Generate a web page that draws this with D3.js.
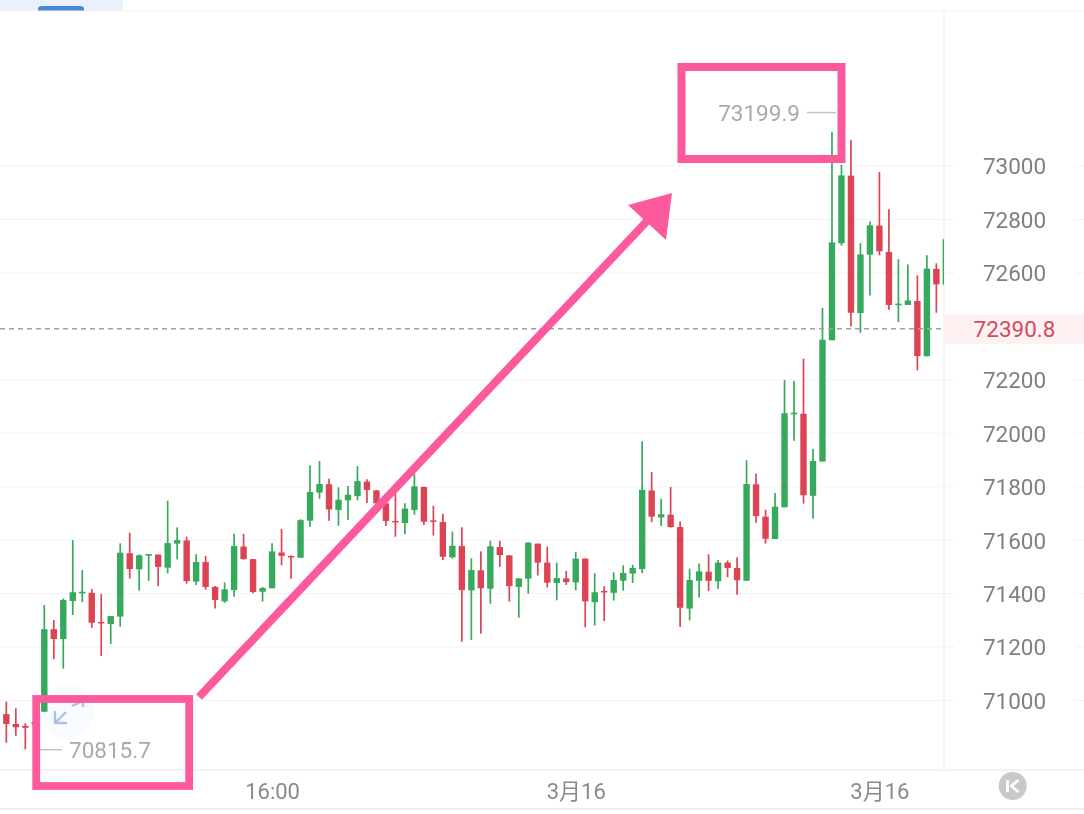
<!DOCTYPE html>
<html>
<head>
<meta charset="utf-8">
<script src="https://cdnjs.cloudflare.com/ajax/libs/d3/7.8.5/d3.min.js"></script>
<style>
html,body{margin:0;padding:0;background:#fff;}
svg{display:block;filter:blur(0.4px);}
text{font-family:Roboto,"Noto Sans CJK SC",sans-serif;}
</style>
</head>
<body>
<div id="chart"></div>
<script>
// Candle values, index -5 .. 95
const opens = [71033,70949,70912,70905,70920,
70958,71267,71230,71372,71401,71403,71294,71286,71314,71551,71491,71542,71546,71497,71587,71599,71445,71518,71425,71371,71413,71576,71529,71407,71420,71554,71541,71534,
71673,71778,71809,71713,71749,71765,71819,71786,71738,71672,71664,71713,71799,71674,71668,71536,71578,71412,71487,71418,71574,71543,71425,71456,71587,71516,71440,71457,71442,71531,71368,71410,
71403,71448,71475,71492,71786,71685,71695,71649,71344,71448,71482,71446,71516,71496,71448,71809,71688,71604,71723,72071,72073,71766,71894,72348,72711,72964,72450,72668,72777,72678,72479,72480,72495,72288,72615,72556];
const highs = [71033,70996,70971,70915,70930,
71357,71301,71382,71600,71488,71417,71398,71316,71588,71628,71547,71548,71546,71748,71648,71613,71547,71541,71428,71442,71624,71623,71529,71425,71588,71642,71543,71678,
71880,71896,71830,71798,71803,71877,71828,71788,71744,71775,71738,71848,71800,71729,71699,71632,71648,71532,71558,71598,71598,71544,71457,71591,71587,71576,71516,71485,71556,71532,71476,71428,
71480,71506,71508,71970,71855,71755,71799,71670,71493,71513,71547,71526,71524,71536,71899,71849,71714,71776,72199,72196,72279,71941,72469,73127,73004,73097,72711,72792,72978,72838,72651,72631,72591,72666,72636,72726];
const lows = [70958,70842,70868,70817,70860,
70958,71154,71119,71320,71368,71272,71166,71211,71276,71456,71411,71448,71428,71476,71528,71437,71432,71415,71344,71366,71388,71527,71401,71370,71420,71506,71456,71534,
71650,71755,71673,71654,71675,71749,71739,71732,71653,71613,71622,71695,71657,71617,71526,71531,71220,71226,71250,71362,71500,71370,71310,71400,71468,71423,71375,71432,71412,71274,71281,71297,
71374,71411,71440,71476,71667,71653,71647,71275,71300,71385,71410,71418,71461,71396,71448,71665,71587,71604,71723,71972,71737,71680,71894,72348,72702,72399,72376,72515,72666,72462,72416,72480,72235,72288,72451,72556];
const closes = [70958,70912,70900,70898,70910,
71267,71230,71376,71405,71407,71291,71289,71316,71553,71492,71543,71548,71500,71589,71600,71447,71518,71425,71376,71416,71578,71529,71406,71421,71558,71541,71536,71675,
71780,71810,71715,71751,71770,71821,71788,71738,71672,71667,71718,71801,71669,71669,71538,71579,71413,71488,71420,71577,71544,71428,71457,71591,71516,71441,71458,71443,71531,71371,71405,71405,
71451,71477,71496,71788,71688,71697,71649,71347,71451,71483,71448,71516,71496,71450,71810,71690,71605,71725,72075,72077,71768,71896,72350,72714,72965,72451,72669,72778,72681,72480,72485,72497,72289,72616,72557,72726];

const yTicks = [71000,71200,71400,71600,71800,72000,72200,72600,72800,73000];
const gridValues = [71000,71200,71400,71600,71800,72000,72200,72400,72600,72800,73000];
const xTickIndex = [24,56,88];
const xTickLabels = ["16:00","3月16","3月16"];
const lastPrice = 72390.8;
const maxPrice = 73199.9;
const minPrice = 70815.7;
const UP = "#37a95c", DOWN = "#dc4455";

const W = 1084, H = 814;
const svg = d3.select("#chart").append("svg").attr("width", W).attr("height", H).attr("viewBox", `0 0 ${W} ${H}`);

const x = d3.scaleLinear().domain([0,95]).range([44.3,945.85]);
const y = d3.scaleLinear().domain([71000,73000]).range([700.5,166]);

// top strip
svg.append("rect").attr("x",0).attr("y",0).attr("width",123).attr("height",11).attr("fill","#e9f1fc");
svg.append("path").attr("d","M38 11 V9 Q38 6 42 6 H80 Q84 6 84 9 V11 Z").attr("fill","#4a86d8");

// frame lines
[11,770,809].forEach(v => svg.append("line").attr("x1",0).attr("x2",W).attr("y1",v).attr("y2",v)
  .attr("stroke",v===11?"#f3f4f6":"#f2f2f2").attr("stroke-width",v===11?1:2));
svg.append("line").attr("x1",944).attr("x2",944).attr("y1",12).attr("y2",770).attr("stroke","#f2f3f3").attr("stroke-width",1.5);

// grid
const grid = svg.append("g");
gridValues.forEach(v => {
  if (v === 72400) return;
  grid.append("line").attr("x1",0).attr("x2",955).attr("y1",y(v)).attr("y2",y(v)).attr("stroke","#f3f3f3");
  grid.append("line").attr("x1",1075).attr("x2",W).attr("y1",y(v)).attr("y2",y(v)).attr("stroke","#f3f3f3");
});

// expand icon
svg.append("circle").attr("cx",67).attr("cy",712).attr("r",27).attr("fill","#f8fbff");
const ic = svg.append("g").attr("fill","none").attr("stroke","#aebfe8").attr("stroke-width",2.4);
ic.append("path").attr("d","M55 711 V723 H67 M55 723 L66 712");
ic.append("path").attr("d","M72 706 L83 701 M76 700 H83 V707");

// clip
svg.append("clipPath").attr("id","plot").append("rect").attr("x",0).attr("y",11).attr("width",944).attr("height",759);

// candles
const candles = opens.map((o,k) => ({i:k-5,o,h:highs[k],l:lows[k],c:closes[k]}));
const bodyW = 6.4;
const g = svg.append("g").attr("clip-path","url(#plot)");
const cg = g.selectAll("g.c").data(candles).join("g").attr("class","c");
cg.append("line")
  .attr("x1",d=>x(d.i)).attr("x2",d=>x(d.i))
  .attr("y1",d=>y(d.h)).attr("y2",d=>y(d.l))
  .attr("stroke",d=>d.c>=d.o?UP:DOWN).attr("stroke-width",1.7);
cg.append("rect")
  .attr("x",d=>x(d.i)-bodyW/2).attr("width",bodyW)
  .attr("y",d=>y(Math.max(d.o,d.c))).attr("height",d=>Math.max(1.5,Math.abs(y(d.o)-y(d.c))))
  .attr("fill",d=>d.c>=d.o?UP:DOWN);

// last price
svg.append("line").attr("x1",0).attr("x2",944).attr("y1",y(lastPrice)).attr("y2",y(lastPrice))
  .attr("stroke","#a0a0a0").attr("stroke-width",1.5).attr("stroke-dasharray","5 4");
svg.append("rect").attr("x",944).attr("y",y(lastPrice)-14.5).attr("width",140).attr("height",30).attr("fill","#fdf2f1");
svg.append("text").attr("x",1014.5).attr("y",y(lastPrice)+8).attr("text-anchor","middle")
  .attr("font-size",22.5).attr("fill","#d54a60").text(lastPrice.toFixed(1));

// y axis
const yAxis = d3.axisRight(y).tickValues(yTicks).tickSize(0).tickFormat(d3.format("d"));
const ya = svg.append("g").attr("transform","translate(1014.5,0)").call(yAxis);
ya.select(".domain").remove();
ya.selectAll("text").attr("x",0).attr("dy","0.35em").attr("text-anchor","middle")
  .attr("font-size",22.5).attr("fill","#808080").attr("font-family",'Roboto,sans-serif');

// x axis
const xAxis = d3.axisBottom(x).tickValues(xTickIndex).tickSize(0).tickFormat((d,k)=>xTickLabels[k]);
const xa = svg.append("g").attr("transform","translate(0,781)").call(xAxis);
xa.select(".domain").remove();
xa.selectAll("text").attr("y",0).attr("dy","0.8em").attr("text-anchor","middle")
  .attr("font-size",22).attr("fill","#8a8a8a").attr("font-family",'Roboto,"Noto Sans CJK SC",sans-serif');

// extreme labels
svg.append("line").attr("x1",807).attr("x2",836).attr("y1",y(maxPrice)).attr("y2",y(maxPrice)).attr("stroke","#c4c4c4").attr("stroke-width",1.5);
svg.append("text").attr("x",800).attr("y",y(maxPrice)+8).attr("text-anchor","end").attr("font-size",22.5).attr("fill","#a9a9a9").text(maxPrice.toFixed(1));
svg.append("line").attr("x1",36).attr("x2",62).attr("y1",y(minPrice)).attr("y2",y(minPrice)).attr("stroke","#c4c4c4").attr("stroke-width",1.5);
svg.append("text").attr("x",69).attr("y",y(minPrice)+8).attr("font-size",22.5).attr("fill","#a9a9a9").text(minPrice.toFixed(1));

// K button
svg.append("circle").attr("cx",1012.7).attr("cy",786).attr("r",14).attr("fill","#c9c9c9");
svg.append("path").attr("d","M1007.5 780 V792 M1018.5 780 L1011.5 786 L1018.5 792").attr("fill","none").attr("stroke","#fff").attr("stroke-width",2.8);

// pink annotation
const PINK = "#fd5a9e";
const ann = svg.append("g");
ann.append("rect").attr("x",36.2).attr("y",699).attr("width",153).attr("height",87).attr("fill","none").attr("stroke",PINK).attr("stroke-width",7.8);
ann.append("rect").attr("x",681.5).attr("y",67).attr("width",160).attr("height",92).attr("fill","none").attr("stroke",PINK).attr("stroke-width",8);
ann.append("line").attr("x1",199).attr("y1",697).attr("x2",648).attr("y2",220).attr("stroke",PINK).attr("stroke-width",8);
ann.append("path").attr("d","M672 193 L628 205 L666 240 Z").attr("fill",PINK);
</script>
</body>
</html>
